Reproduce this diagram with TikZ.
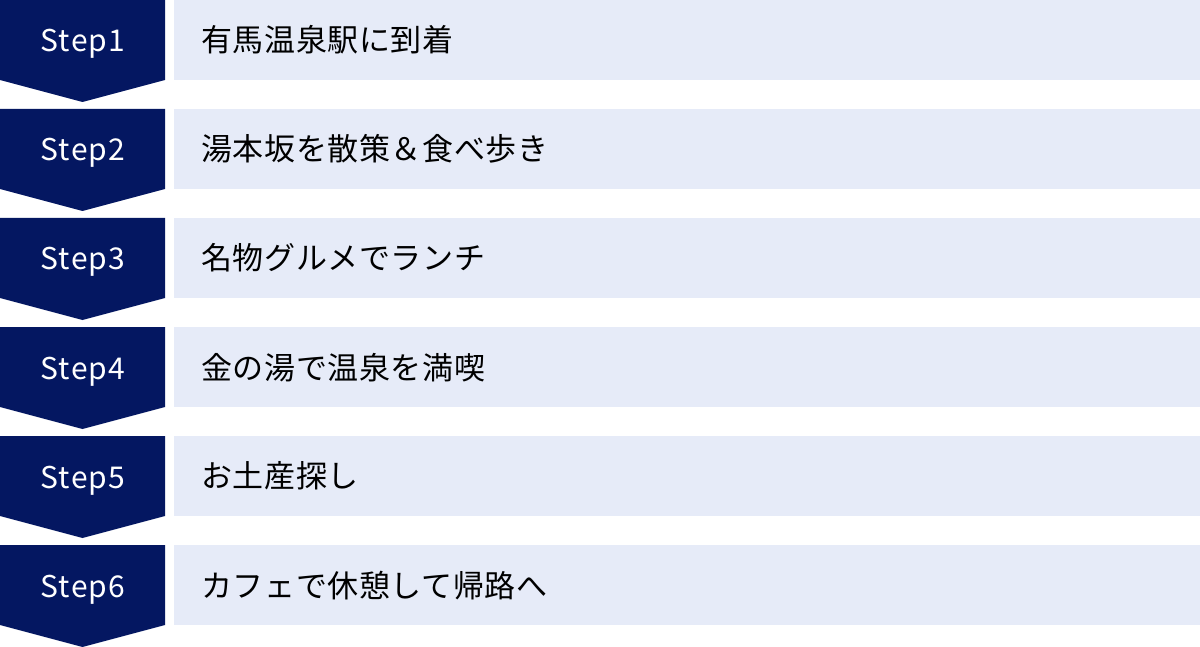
\documentclass[tikz,border=0pt]{standalone}
\usepackage{fontspec}
\setmainfont[LetterSpace=2]{Noto Sans CJK JP}
\newfontfamily\stepfont[LetterSpace=4]{Noto Sans CJK JP}
\usetikzlibrary{positioning}
\definecolor{navy}{HTML}{041761}
\definecolor{paleblue}{HTML}{E6EBF8}

\begin{document}
\begin{tikzpicture}[x=1pt,y=-1pt,
    steplabel/.style={text=white,inner sep=0pt,anchor=base,font=\stepfont\fontsize{30}{30}\selectfont},
    band/.style={fill=paleblue,anchor=north west,minimum width=1026pt,minimum height=80pt,inner sep=0pt},
    bandtext/.style={anchor=west,inner sep=0pt,font=\fontsize{31}{31}\selectfont}]
  \useasboundingbox (0,0) rectangle (1200,647);
  % one row per step: chevron tag on the left, pale band with the text
  \foreach \i/\txt in {1/有馬温泉駅に到着,2/湯本坂を散策＆食べ歩き,3/名物グルメでランチ,
                       4/金の湯で温泉を満喫,5/お土産探し,6/カフェで休憩して帰路へ}{
    \pgfmathsetmacro\rowy{109*(\i-1)}
    \fill[navy] (0,\rowy) -- ++(165,0) -- ++(0,80) -- ++(-82.5,22) -- ++(-82.5,-22) -- cycle;
    \node[steplabel] (step\i) at (83,\rowy+52) {Step\i};
    \node[band] (band\i) at (174,\rowy) {};
    \node[bandtext] (text\i) at ([xshift=27pt]band\i.west) {\txt};
  }
\end{tikzpicture}
\end{document}
